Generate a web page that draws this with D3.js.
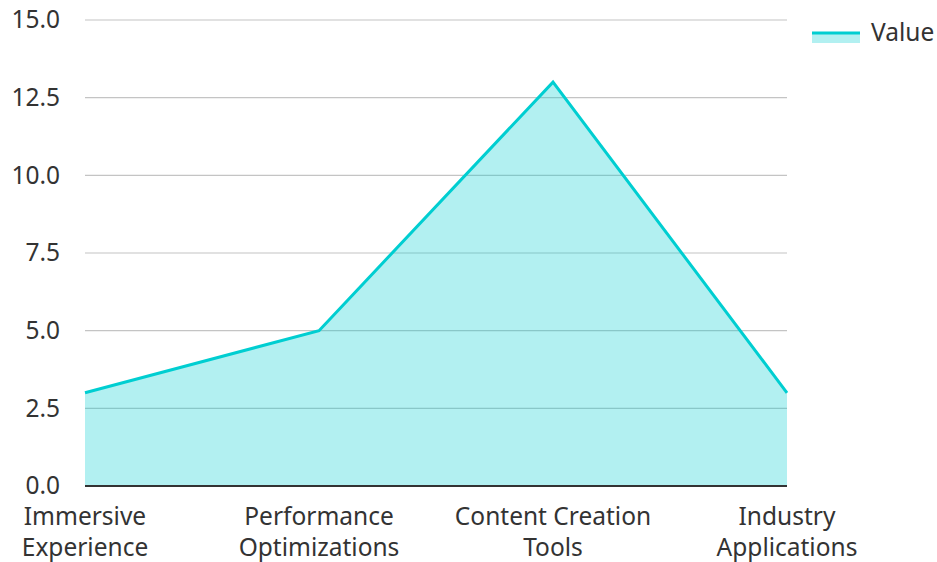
<!DOCTYPE html>
<html>
<head>
<meta charset="utf-8">
<script src="https://cdn.jsdelivr.net/npm/d3@7"></script>
<style>
  body { margin: 0; background: #fff; }
  text { font-family: "Noto Sans", "Open Sans", sans-serif; fill: #333; }
</style>
</head>
<body>
<svg id="chart" width="937" height="562"></svg>
<script>
// Data
const categories = [
    ["Immersive", "Experience"],
    ["Performance", "Optimizations"],
    ["Content Creation", "Tools"],
    ["Industry", "Applications"]
];
const values = [3, 5, 13, 3];
const yTicks = [0, 2.5, 5, 7.5, 10, 12.5, 15];
const seriesName = "Value";

const svg = d3.select("#chart");
const width = 937, height = 562;
const margin = { top: 20, right: 150, bottom: 76, left: 85 };
const color = "#00CED1";
const fontSize = "24.5px";

const labels = categories.map(c => c.join(" "));

// X scale (point)
const x = d3.scalePoint()
    .domain(labels)
    .range([margin.left, width - margin.right]);

// Y scale
const y = d3.scaleLinear()
    .domain([0, 15])
    .range([height - margin.bottom, margin.top]);

// Area under line
const data = labels.map((l, i) => ({ label: l, value: values[i] }));

// Gridlines
svg.append("g")
    .selectAll("line")
    .data(yTicks.filter(t => t > 0))
    .enter()
    .append("line")
        .attr("x1", margin.left)
        .attr("x2", width - margin.right)
        .attr("y1", d => y(d))
        .attr("y2", d => y(d))
        .attr("stroke", "#c4c4c4")
        .attr("stroke-width", 1.2);

svg.append("path")
    .datum(data)
    .attr("fill", color)
    .attr("fill-opacity", 0.3)
    .attr("d", d3.area()
        .x(d => x(d.label))
        .y0(y(0))
        .y1(d => y(d.value)));

// Line
svg.append("path")
    .datum(data)
    .attr("fill", "none")
    .attr("stroke", color)
    .attr("stroke-width", 3)
    .attr("d", d3.line()
        .x(d => x(d.label))
        .y(d => y(d.value)));

// Y axis labels
const yAxis = svg.append("g")
    .attr("transform", `translate(${margin.left},0)`)
    .call(d3.axisLeft(y).tickValues(yTicks).tickFormat(d3.format(".1f")).tickSize(0).tickPadding(25));
yAxis.select(".domain").remove();
yAxis.selectAll("text")
    .attr("font-size", fontSize)
    .attr("font-family", "'Noto Sans', sans-serif")
    .attr("fill", "#333");

// X axis baseline
svg.append("line")
    .attr("x1", margin.left)
    .attr("x2", width - margin.right)
    .attr("y1", y(0))
    .attr("y2", y(0))
    .attr("stroke", "#333")
    .attr("stroke-width", 2);

// X labels (two lines)
const xl = svg.append("g")
    .selectAll("text")
    .data(categories)
    .enter()
    .append("text")
        .attr("x", (d, i) => x(labels[i]))
        .attr("y", y(0) + 39)
        .attr("text-anchor", "middle")
        .attr("font-size", fontSize);
xl.selectAll("tspan")
    .data(d => d)
    .enter()
    .append("tspan")
        .attr("x", function() { return this.parentNode.getAttribute("x"); })
        .attr("dy", (d, i) => i === 0 ? 0 : 31)
        .text(d => d);

// Legend
const lg = svg.append("g").attr("transform", `translate(${width - margin.right + 25}, 33)`);
lg.append("rect")
    .attr("x", 0).attr("y", 0)
    .attr("width", 48).attr("height", 10)
    .attr("fill", color).attr("fill-opacity", 0.3);
lg.append("line")
    .attr("x1", 0).attr("x2", 48)
    .attr("y1", 0).attr("y2", 0)
    .attr("stroke", color).attr("stroke-width", 3);
lg.append("text")
    .attr("x", 59).attr("y", 8)
    .attr("font-size", fontSize)
    .text(seriesName);
</script>
</body>
</html>
